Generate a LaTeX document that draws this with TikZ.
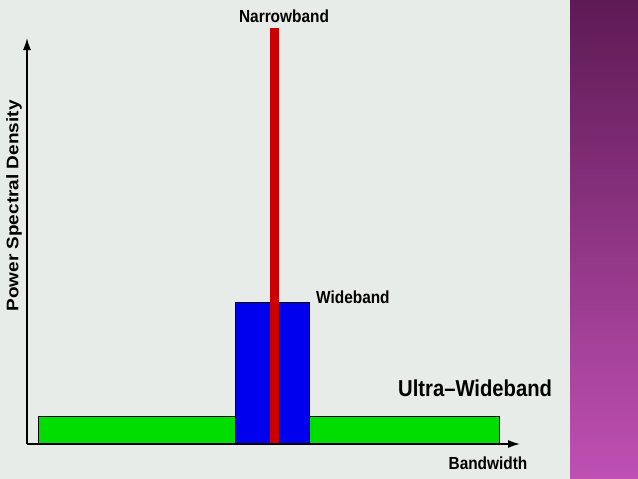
\documentclass[tikz,border=0pt]{standalone}
\usepackage{fontspec}
\setmainfont{Liberation Sans}
\usetikzlibrary{arrows.meta}
\definecolor{bg}{HTML}{E8ECE8}
\definecolor{ptop}{HTML}{5E1A55}
\definecolor{pbot}{HTML}{C050B4}
\definecolor{gr}{HTML}{00DD00}
\definecolor{bl}{HTML}{0000EE}
\definecolor{rd}{HTML}{CC0000}
\tikzset{lbl/.style={font=\bfseries\fontsize{17.5}{20}\selectfont, inner sep=0pt, xscale=0.88},
  axis/.style={line width=1.5pt,-{Latex[length=12pt,width=8pt]}},
  band/.style={draw=black, line width=1pt}}
\begin{document}
\begin{tikzpicture}[x=1pt,y=-1pt]
\useasboundingbox (0,0) rectangle (638,479);
\fill[bg] (0,0) rectangle (570,479);
\shade[top color=ptop,bottom color=pbot] (570,0) rectangle (638,479);
\node[band, fill=gr, minimum width=461pt, minimum height=28pt, anchor=north west, inner sep=0pt] (uwb) at (38,416) {};
\node[band, fill=bl, minimum width=74pt, minimum height=142pt, anchor=north west, inner sep=0pt] (wb) at (235,302) {};
\node[fill=rd, minimum width=9pt, minimum height=416pt, anchor=north west, inner sep=0pt] (nb) at (269.5,28) {};
\coordinate (o) at (27,444);
\coordinate (ytop) at (27,38);
\coordinate (xend) at (520,444);
\draw[axis] (o) -- (ytop);
\draw[axis] (o) -- (xend);
\node[lbl] (tnb) at (284,16) {Narrowband};
\node[lbl, anchor=west] (twb) at (316,297) {Wideband};
\node[lbl, anchor=west, font=\bfseries\fontsize{23}{26}\selectfont] (tuwb) at (398,388) {Ultra–Wideband};
\node[lbl] (tbw) at (488,463) {Bandwidth};
\node[lbl, rotate=90, font=\bfseries\fontsize{19}{22}\selectfont] (tpsd) at (14,206) {Power Spectral Density};
\end{tikzpicture}
\end{document}
